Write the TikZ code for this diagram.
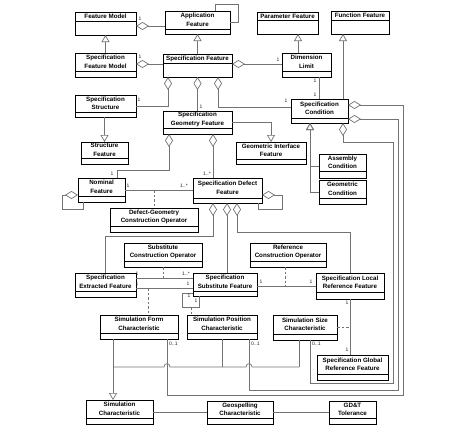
\documentclass[tikz,border=0pt]{standalone}
\usepackage{fontspec}
\setmainfont{Liberation Sans}
\usetikzlibrary{arrows.meta}
\tikzset{
 clsbox/.style={draw=black, line width=0.8pt, fill=white, inner sep=0pt, outer sep=0pt},
 clsline/.style={draw=black, line width=0.8pt},
 clstext/.style={font=\fontsize{6.2}{8.5}\selectfont\bfseries, align=center, inner sep=0pt},
 conn/.style={draw=black!55, line width=0.7pt},
 agg/.style={conn, {Diamond[open,length=13pt,width=8pt]}-},
 gen/.style={conn, -{Triangle[open,length=7pt,width=8pt]}},
 dep/.style={conn, dash pattern=on 2.5pt off 2pt},
 lbl/.style={font=\fontsize{5}{6}\selectfont, inner sep=0pt, text=black!85},
}
\newcommand\umlclass[7]{%
  \node[clsbox, minimum width=#4pt-#2pt, minimum height=#5pt-#3pt] (#1) at ({(#2+#4)/2},{(#3+#5)/2}) {};
  \draw[clsline] (#2,#6) -- (#4,#6);
  \node[clstext] (#1-t) at ({(#2+#4)/2},{(#3+#6)/2}) {#7};
}
\begin{document}
\begin{tikzpicture}[x=1pt,y=-1pt]
\useasboundingbox (0,0) rectangle (474,434);
\umlclass{fm}{75}{12}{136}{35}{21}{Feature Model}
\umlclass{af}{165}{11}{230}{34}{29}{Application\\Feature}
\umlclass{pf}{257}{12}{318}{34}{20}{Parameter Feature}
\umlclass{ff}{331}{11}{389}{34}{20}{Function Feature}
\umlclass{sfm}{75}{53}{136}{77}{71}{Specification\\Feature Model}
\umlclass{sf}{163}{54}{232}{77}{63}{Specification Feature}
\umlclass{dl}{282}{53}{331}{77}{71}{Dimension\\Limit}
\umlclass{sst}{75}{95}{136}{117}{112}{Specification\\Structure}
\umlclass{sc}{291}{99}{348}{123}{118}{Specification\\Condition}
\umlclass{sgf}{163}{111}{232}{134}{128}{Specification\\Geometry Feature}
\umlclass{stf}{81}{142}{128}{164}{158}{Structure\\Feature}
\umlclass{gif}{236}{142}{306}{164}{159}{Geometric Interface\\Feature}
\umlclass{ac}{319}{154}{366}{178}{171}{Assembly\\Condition}
\umlclass{gc}{319}{180}{366}{204}{198}{Geometric\\Condition}
\umlclass{nf}{78}{178}{125}{202}{196}{Nominal\\Feature}
\umlclass{sdf}{193}{178}{262}{203}{198}{Specification Defect\\Feature}
\umlclass{dgco}{110}{208}{198}{232}{226}{Defect-Geometry\\Construction Operator}
\umlclass{sco}{124}{243}{202}{267}{261}{Substitute\\Construction Operator}
\umlclass{rco}{250}{243}{326}{267}{261}{Reference\\Construction Operator}
\umlclass{sef}{75}{273}{136}{297}{291}{Specification\\Extracted Feature}
\umlclass{ssf}{193}{273}{257}{296}{291}{Specification\\Substitute Feature}
\umlclass{slrf}{316}{273}{384}{299}{292}{Specification Local\\Reference Feature}
\umlclass{sfc}{100}{315}{178}{339}{333}{Simulation Form\\Characteristic}
\umlclass{spc}{187}{315}{257}{339}{333}{Simulation Position\\Characteristic}
\umlclass{ssc}{273}{315}{337}{340}{334}{Simulation Size\\Characteristic}
\umlclass{sgrf}{317}{355}{388}{380}{374}{Specification Global\\Reference Feature}
\umlclass{simc}{86}{400}{153}{424}{418}{Simulation\\Characteristic}
\umlclass{gsc}{207}{401}{273}{424}{418}{Geospelling\\Characteristic}
\umlclass{gdt}{329}{401}{376}{424}{418}{GD\&T\\Tolerance}

% top
\draw[agg] ([yshift=-2.5pt]fm.east) -- ([yshift=-2.5pt]fm.east -| af.west);
\draw[conn] ([xshift=17.5pt]af.north) |- ([xshift=8pt,yshift=7pt]af.north east) |- (af.east);
\draw[gen] (sfm.north) -- (fm.south);
\draw[gen] (sf.north) -- (af.south);
\draw[agg] ([yshift=1pt]sfm.east) -- ([yshift=1pt]sfm.east -| sf.west);
\draw[agg] ([yshift=1.5pt]sf.east) -- ([yshift=1.5pt]sf.east -| dl.west);
\draw[gen] ([xshift=-8.5pt]dl.north) -- ([xshift=-8.5pt]dl.north |- pf.south);
\draw[conn] ([xshift=12.5pt]dl.south) -- ([xshift=12.5pt]dl.south |- sc.north);
\draw[gen] ([xshift=23.5pt]sc.north) -- ([xshift=23.5pt]sc.north |- ff.south);

% specification feature parts
\draw[agg] ([xshift=5pt]sf.south west) |- (sst.east);
\draw[agg] (sf.south) -- (sgf.north);
\draw[agg] ([xshift=20.5pt]sf.south) |- ([yshift=4pt]sc.west);
\draw[gen] (sst.south -| stf.north) -- (stf.north);

% geometry feature
\draw[agg] ([xshift=6pt]sgf.south west) |- ([xshift=15.5pt,yshift=8pt]nf.north) -- ([xshift=15.5pt]nf.north);
\draw[agg] ([xshift=15.5pt]sgf.south) -- ([xshift=15.5pt]sgf.south |- sdf.north);
\draw[gen] (sgf.east) -| (gif.north);

% conditions
\draw[gen] (ac.west) -| ([xshift=-9.5pt]sc.south);
\draw[gen] (gc.west) -| ([xshift=-9.5pt]sc.south);

% nominal / defect
\draw[agg] ([yshift=-5pt]nf.west) -| ([xshift=-16pt,yshift=-7pt]nf.south west) -| ([xshift=5pt]nf.south west);
\draw[conn] (nf.east) -- (nf.east -| sdf.west);
\draw[dep] (dgco.north |- nf.east) -- (dgco.north);
\draw[agg] ([yshift=-4.5pt]sdf.east) -| ([xshift=20pt,yshift=-6pt]sdf.south east) -| ([xshift=-4pt]sdf.south east);
\draw[agg] ([xshift=20pt]sdf.south west) -- ++(0,33) -| (sef.north);
\draw[agg] ([xshift=34pt]sdf.south west) -- ([xshift=34pt]sdf.south west |- ssf.north);
\draw[agg] ([xshift=44pt]sdf.south west) -- ++(0,29) -| (slrf.north);

% extracted / substitute / reference
\draw[conn] ([yshift=7pt]sef.east) coordinate (u1) -- (u1 -| ssf.west);
\draw[conn] ([yshift=-3pt]sef.east) coordinate (w1) -- (w1 -| ssf.west);
\draw[dep] (sco.south) -- (sco.south |- u1);
\draw[dep] ([xshift=9pt]sfc.north |- w1) -- ([xshift=9pt]sfc.north);
\draw[conn] ([yshift=-8.5pt]ssf.west) -| ([xshift=-11pt,yshift=-11pt]ssf.south west) coordinate (lp) -| ([xshift=6pt]ssf.south west);
\draw[dep] ([xshift=4pt]spc.north west |- lp) -- ([xshift=4pt]spc.north west);
\draw[conn] ([yshift=-1.5pt]ssf.east) coordinate (r1) -- (r1 -| slrf.west);
\draw[dep] ([xshift=-3pt]rco.south) -- ([xshift=-3pt]rco.south |- r1);
\draw[conn] (slrf.south) -- (slrf.south |- sgrf.north);
\draw[dep] (ssc.east) -- (ssc.east -| slrf.south);

% condition to simulation characteristics
\coordinate (cA) at (403,395);
\coordinate (cB) at (398,390);
\coordinate (cC) at (393,142);
\coordinate (cD) at (393,383);
\draw[agg] ([yshift=6pt]sc.east) -| (cA) -| ([xshift=28pt]sfc.south);
\draw[agg] ([yshift=-8pt]sc.east) -| (cB) -| ([xshift=27pt]spc.south);
\draw[agg] ([xshift=23.5pt]sc.south) |- (cC) -- (cD) -| ([xshift=5pt]ssc.south);

% generalization to simulation characteristic
\draw[gen] ([xshift=-26pt]sfc.south) -- ([xshift=-6.5pt]simc.north);
\coordinate (hb1) at (113,367);
\coordinate (hb2) at (299,367);
\draw[conn] (hb1) -- (164,367) .. controls (164,362.5) and (170,362.5) .. (170,367) -- (246,367) .. controls (246,362.5) and (252,362.5) .. (252,367) -- (hb2);
\draw[conn] (spc.south) -- (spc.south |- hb1);
\draw[conn] ([xshift=-6pt]ssc.south) -- (hb2);

% bottom row
\draw[conn] (simc.east) -- (simc.east -| gsc.west);
\draw[conn] (gsc.east) -- (gsc.east -| gdt.west);

% multiplicities
\node[lbl] (m1) at (140,19) {1};
\node[lbl] (m2) at (140,57) {1};
\node[lbl] (m3) at (278,60) {1};
\node[lbl] (m4) at (315,81) {1};
\node[lbl] (m5) at (315,95) {1};
\node[lbl] (m6) at (139,100) {1};
\node[lbl] (m7) at (201,107) {1};
\node[lbl] (m8) at (286,101) {1};
\node[lbl] (m9) at (112,174) {1};
\node[lbl] (m10) at (207,174) {1..*};
\node[lbl] (m11) at (128,186) {1};
\node[lbl] (m12) at (184,186) {1..*};
\node[lbl] (m13) at (137,274) {1};
\node[lbl] (m14) at (186,274) {1..*};
\node[lbl] (m15) at (137,284) {1};
\node[lbl] (m16) at (188,284) {1};
\node[lbl] (m17) at (189,296) {1};
\node[lbl] (m18) at (196,301) {1};
\node[lbl] (m19) at (261,282) {1};
\node[lbl] (m20) at (311,282) {1};
\node[lbl] (m21) at (347,303) {1};
\node[lbl] (m22) at (347,350) {1};
\node[lbl,anchor=west] (m23) at (169,344) {0..1};
\node[lbl,anchor=west] (m24) at (251,344) {0..1};
\node[lbl,anchor=west] (m25) at (312,344) {0..1};
\end{tikzpicture}
\end{document}
